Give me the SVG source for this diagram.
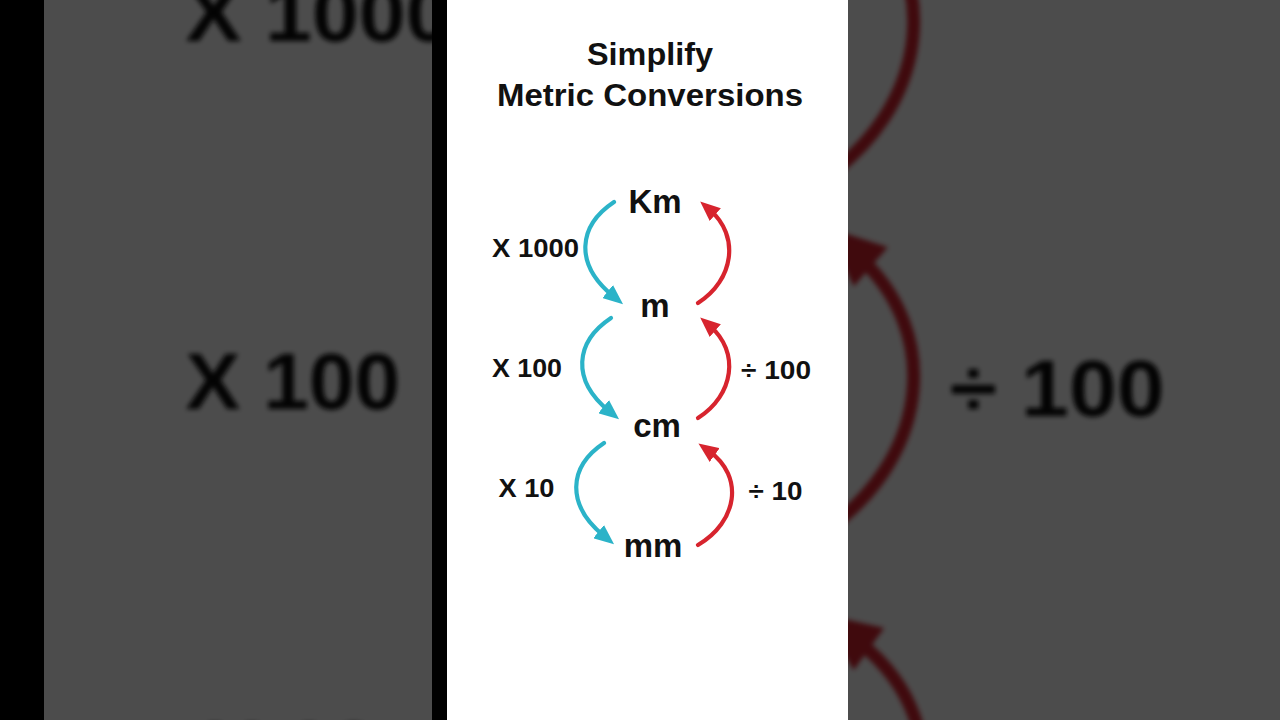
<svg xmlns="http://www.w3.org/2000/svg" xmlns:xlink="http://www.w3.org/1999/xlink" width="1280" height="720" viewBox="0 0 1280 720">
  <style>
    .title { font-family: "Liberation Sans", Arial, sans-serif; font-weight: bold; font-size: 32px; fill: #111; text-anchor: middle; }
    .node { font-family: "Liberation Sans", Arial, sans-serif; font-weight: bold; font-size: 33px; fill: #111; text-anchor: middle; }
    .lbl { font-family: "Liberation Sans", Arial, sans-serif; font-weight: bold; font-size: 26px; fill: #111; }
    .blue { fill: none; stroke: #2bb3c8; stroke-width: 4.2; stroke-linecap: round; marker-end: url(#headBlue); }
    .red { fill: none; stroke: #d7242e; stroke-width: 4.2; stroke-linecap: round; marker-end: url(#headRed); }
  </style>
  <defs>
    <marker id="headBlue" markerUnits="userSpaceOnUse" viewBox="0 0 20 17" markerWidth="20" markerHeight="17" refX="7" refY="8.5" orient="auto">
      <path d="M0,0 L20,8.5 L0,17 z" fill="#2bb3c8"/>
    </marker>
    <marker id="headRed" markerUnits="userSpaceOnUse" viewBox="0 0 20 17" markerWidth="20" markerHeight="17" refX="7" refY="8.5" orient="auto">
      <path d="M0,0 L20,8.5 L0,17 z" fill="#d7242e"/>
    </marker>
    <clipPath id="sides">
      <rect x="44" y="0" width="388" height="720"/>
      <rect x="848" y="0" width="432" height="720"/>
    </clipPath>
    <filter id="soft" x="-5%" y="-5%" width="110%" height="110%">
      <feGaussianBlur stdDeviation="0.8"/>
    </filter>
  </defs>

  <!-- frame background -->
  <rect x="0" y="0" width="1280" height="720" fill="#000"/>

  <!-- blurred enlarged copy behind the panel -->
  <g id="backdrop" clip-path="url(#sides)">
    <rect x="0" y="0" width="1280" height="720" fill="#fff"/>
    <use xlink:href="#diagram" href="#diagram" transform="translate(-1325,-748) scale(3.07)" filter="url(#soft)"/>
    <rect x="0" y="0" width="1280" height="720" fill="#000" opacity="0.7"/>
  </g>

  <!-- center white panel -->
  <rect x="447" y="0" width="401" height="720" fill="#fff"/>

  <g id="diagram">
    <g id="title">
      <text class="title" x="650" y="65" textLength="126" lengthAdjust="spacingAndGlyphs">Simplify</text>
      <text class="title" x="650" y="106" textLength="306" lengthAdjust="spacingAndGlyphs">Metric Conversions</text>
    </g>

    <g id="connectors">
      <path class="blue" d="M614,202 C578,226 574,264 613,296"/>
      <path class="blue" d="M611,318 C575,342 571,380 609,411"/>
      <path class="blue" d="M604,443 C568,467 566,505 604,536"/>
      <path class="red" d="M698,303 C734,280 740,236 710,210"/>
      <path class="red" d="M698,418 C734,395 740,352 710,326"/>
      <path class="red" d="M698,545 C737,522 745,477 709,451"/>
    </g>

    <g id="edge-labels">
      <text class="lbl" x="492" y="257" textLength="87" lengthAdjust="spacingAndGlyphs">X 1000</text>
      <text class="lbl" x="492" y="377" textLength="70" lengthAdjust="spacingAndGlyphs">X 100</text>
      <text class="lbl" x="498.5" y="497" textLength="56" lengthAdjust="spacingAndGlyphs">X 10</text>
      <text class="lbl" x="741" y="379" textLength="70" lengthAdjust="spacingAndGlyphs">÷ 100</text>
      <text class="lbl" x="748.5" y="500" textLength="54" lengthAdjust="spacingAndGlyphs">÷ 10</text>
    </g>

    <g id="node-km"><text class="node" x="655" y="213">Km</text></g>
    <g id="node-m"><text class="node" x="655" y="317">m</text></g>
    <g id="node-cm"><text class="node" x="657" y="437">cm</text></g>
    <g id="node-mm"><text class="node" x="653" y="557">mm</text></g>
  </g>
</svg>
